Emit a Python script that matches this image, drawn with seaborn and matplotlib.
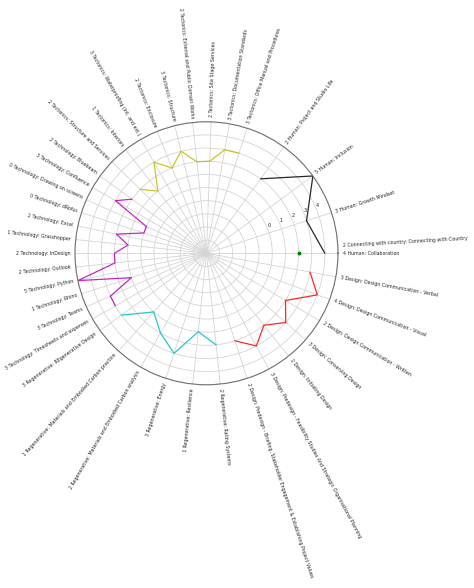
import numpy as np
import pandas as pd
import matplotlib
matplotlib.use("Agg")
import matplotlib.pyplot as plt
import seaborn as sns

# ---------------- data ----------------
groups = ["Human", "Tectonics", "Technology", "Regenerative", "Design"]

human_skills = ["Collaboration", "Growth Mindset", "Inclusion", "Project and Studio Life"]
human_values = [4, 3, 5, 2]

tectonics_skills = ["Office Manual and Procedures", "Documentation Standards",
                    "Site Stage Services", "External and Public Domain Works",
                    "Structure", "Enclosure", "Waterproofing (int. and ext.)",
                    "Interiors", "Structure and Services"]
tectonics_values = [3, 3, 2, 2, 3, 2, 3, 1, 2]

technology_skills = ["Bluebeam", "Confluence", "Drawing on screens", "dRofus", "Excel",
                     "Grasshopper", "InDesign", "Outlook", "Python", "Rhino", "Teams",
                     "Timesheets and expenses"]
technology_values = [2, 3, 0, 0, 2, 1, 2, 2, 5, 1, 3, 3]

regenerative_skills = ["REgenerative Design", "Materials and Embodied Carbon practice",
                       "Materials and Embodied Carbon analysis", "Energy", "Resilience",
                       "Rating Systems"]
regenerative_values = [3, 1, 2, 3, 1, 2]

design_skills = ["Predesign - Briefing, Stakeholder Engagement & Establishing Project Values",
                 "Predesign - Feasibility Studies And Strategic Organisational Planning",
                 "Initiating Design", "Conserving Design",
                 "Design Communication - Written", "Design Communication - Visual",
                 "Design Communication - Verbal"]
design_values = [2, 3, 2, 3, 2, 4, 3]

country_group = "Connecting with country"
country_skills = ["Connecting with Country"]
country_values = [2]

radial_ticks = [-5, -4, -3, -2, -1, 0, 1, 2, 3, 4, 5]
radial_ticklabels = ["", "", "", "", "", "0", "1", "2", "3", "4", ""]

group_colors = {"Human": "k", "Tectonics": "y", "Technology": "m",
                "Regenerative": "c", "Design": "r"}
country_color = "g"

# ---------------- build table ----------------
skills_by_group = [human_skills, tectonics_skills, technology_skills,
                   regenerative_skills, design_skills]
values_by_group = [human_values, tectonics_values, technology_values,
                   regenerative_values, design_values]

rows = []
sector = 2 * np.pi / len(groups)
for gi, (g, sk, vals) in enumerate(zip(groups, skills_by_group, values_by_group)):
    n = len(sk)
    for k, (s, v) in enumerate(zip(sk, vals)):
        theta = gi * sector + k * sector / n
        rows.append(dict(group=g, skill=s, value=v, theta=theta,
                         label=f"{v} {g}: {s}"))
df = pd.DataFrame(rows)
country_df = pd.DataFrame(dict(group=country_group, skill=country_skills,
                               value=country_values, theta=[0.0] * len(country_skills),
                               label=[f"{v} {country_group}: {s}" for s, v in
                                      zip(country_skills, country_values)]))

# ---------------- plot ----------------
sns.set_style("white")
plt.rcParams["font.family"] = ["DejaVu Sans"]

fig = plt.figure(figsize=(4.74, 5.88), dpi=100)
ax = fig.add_axes([0.1582, 0.3456, 0.5549, 0.4473], projection="polar")

sns.lineplot(data=df, x="theta", y="value", hue="group", palette=group_colors,
             hue_order=groups, sort=False, estimator=None, units="group",
             linewidth=0.9, alpha=0.85, legend=False, ax=ax)
sns.scatterplot(data=country_df, x="theta", y="value", color=country_color,
                s=8, linewidth=0, legend=False, ax=ax, zorder=5)

ax.set_xlabel("")
ax.set_ylabel("")
ax.set_ylim(-5, 5)
ax.set_yticks(radial_ticks)
ax.set_yticklabels(radial_ticklabels, fontsize=3.5)
ax.set_rlabel_position(22.5)
ax.set_xticks(df["theta"].values)
ax.set_xticklabels([])
ax.grid(True, color="#d4d4d4", linewidth=0.6)
ax.spines["polar"].set_color("#707070")
ax.spines["polar"].set_linewidth(0.8)

label_r = 5.35
fs = 3.4


def put_label(theta, text, ax):
    deg = np.degrees(theta) % 360
    if deg <= 90 or deg >= 270:
        rot, ha = deg, "left"
    else:
        rot, ha = deg - 180, "right"
    ax.text(theta, label_r, text, rotation=rot, rotation_mode="anchor",
            ha=ha, va="center", fontsize=fs)


for t, lab in zip(df["theta"], df["label"]):
    put_label(t, lab, ax)
country_label_offset = np.radians(3.3)
for t, lab in zip(country_df["theta"], country_df["label"]):
    put_label(t + country_label_offset, lab, ax)

fig.savefig("out.png", dpi=100)
